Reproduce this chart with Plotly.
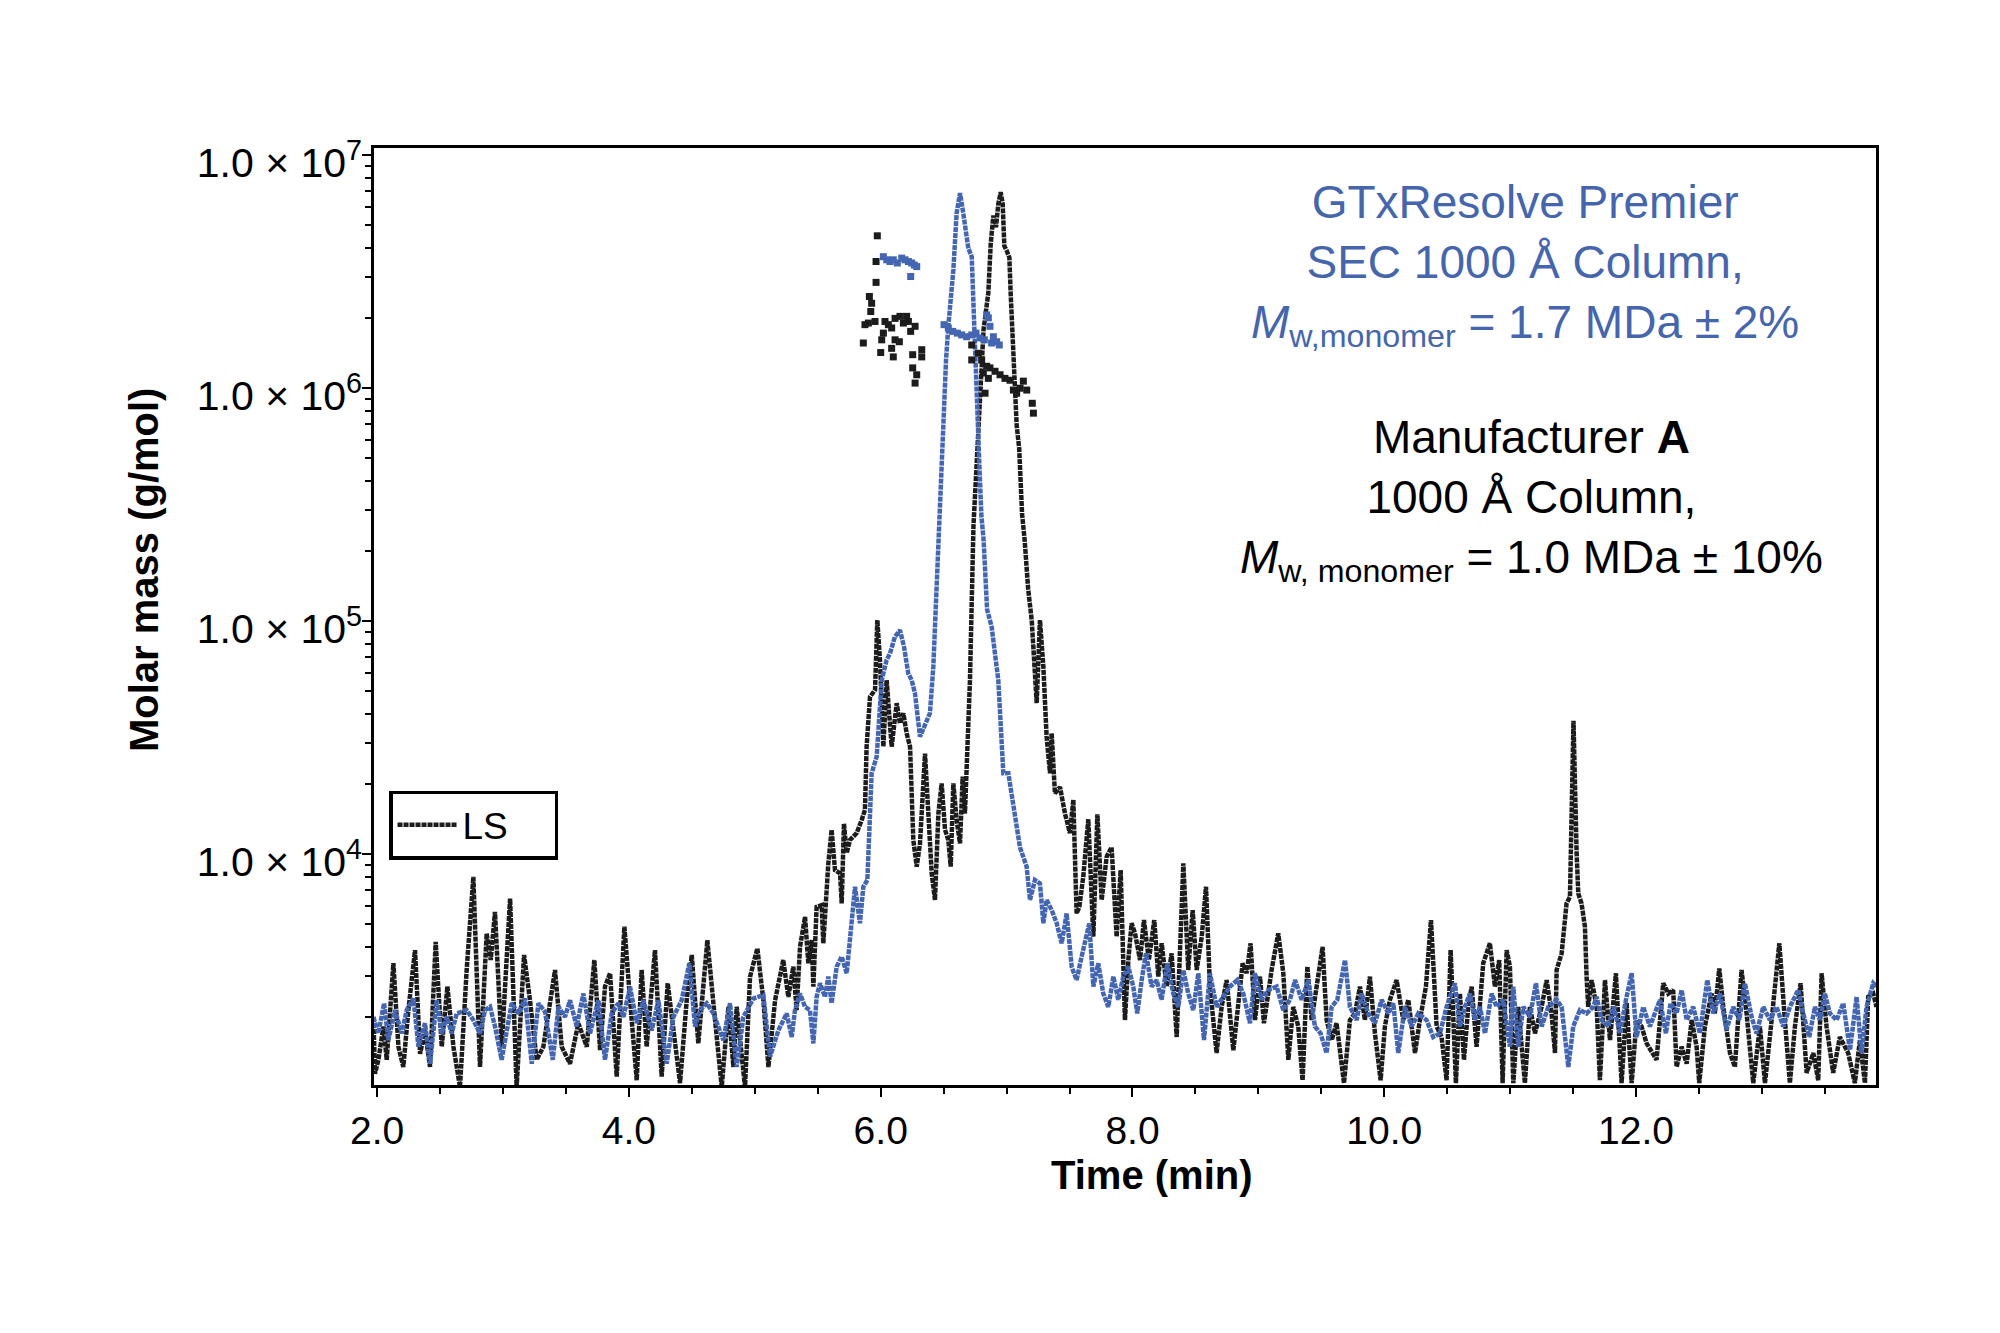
import plotly.graph_objects as go

# ---------------- data ----------------
black_time = [1.970, 1.983, 2.010, 2.050, 2.076, 2.129, 2.169, 2.208, 2.248, 2.301, 2.341, 2.380, 2.420, 2.465, 2.513, 2.558, 2.606, 2.658, 2.711, 2.764, 2.817, 2.870, 2.902, 2.936, 2.989, 3.056, 3.108, 3.167, 3.214, 3.267, 3.320, 3.413, 3.466, 3.532, 3.598, 3.665, 3.725, 3.771, 3.810, 3.850, 3.903, 3.964, 4.009, 4.062, 4.101, 4.141, 4.207, 4.260, 4.308, 4.353, 4.406, 4.459, 4.499, 4.551, 4.623, 4.671, 4.737, 4.790, 4.830, 4.856, 4.922, 4.962, 5.020, 5.068, 5.108, 5.161,
              5.226, 5.266, 5.306, 5.332, 5.359, 5.399, 5.425, 5.452, 5.465, 5.491, 5.531, 5.544, 5.584, 5.610, 5.637, 5.677, 5.690, 5.708, 5.730, 5.756, 5.809, 5.849, 5.875, 5.888, 5.915, 5.955, 5.973, 5.994, 6.008, 6.021, 6.047, 6.087, 6.127, 6.153, 6.180, 6.206, 6.233, 6.259, 6.286, 6.312, 6.352, 6.378, 6.405, 6.431, 6.458, 6.484, 6.511, 6.537, 6.556, 6.577, 6.603, 6.630, 6.651, 6.669, 6.683, 6.709,
              6.737, 6.760, 6.789, 6.817, 6.855, 6.874, 6.895, 6.916, 6.934, 6.953, 6.969, 6.982, 7.000, 7.022, 7.032, 7.054, 7.080, 7.100, 7.123, 7.143, 7.171, 7.200, 7.212, 7.239, 7.265, 7.292, 7.318, 7.345, 7.358, 7.384, 7.424, 7.464, 7.503, 7.530, 7.556,
              7.578, 7.609, 7.649, 7.689, 7.721, 7.755, 7.795, 7.834, 7.874, 7.906, 7.940, 7.967, 7.993, 8.020, 8.060, 8.091, 8.130, 8.173, 8.205, 8.232, 8.271, 8.311, 8.351, 8.404, 8.443, 8.478, 8.510, 8.550, 8.584, 8.615, 8.668, 8.708, 8.748, 8.801, 8.840, 8.875, 8.907, 8.938, 8.973, 9.013, 9.044, 9.105, 9.158, 9.198, 9.238, 9.277, 9.317, 9.351, 9.389, 9.423, 9.510, 9.542, 9.582, 9.621, 9.680, 9.727, 9.767, 9.807, 9.846, 9.886, 9.926, 9.971, 10.005, 10.045, 10.098, 10.151, 10.191, 10.244, 10.283, 10.331, 10.371, 10.416, 10.455, 10.495, 10.527, 10.569, 10.601,
              10.633, 10.667, 10.694, 10.733, 10.786, 10.839, 10.879, 10.913, 10.940, 10.972, 10.998, 11.025, 11.064, 11.117, 11.157, 11.197, 11.250, 11.290, 11.329, 11.356, 11.369, 11.409, 11.448, 11.475, 11.488, 11.503, 11.528, 11.541, 11.567, 11.594, 11.607, 11.620, 11.647, 11.687, 11.713, 11.753, 11.793, 11.840, 11.885, 11.925, 11.965, 12.004, 12.044, 12.084, 12.163, 12.216, 12.256, 12.295, 12.322, 12.362, 12.402, 12.442, 12.481, 12.502, 12.547, 12.600, 12.626, 12.661, 12.693, 12.746, 12.785, 12.838, 12.878, 12.931, 12.984, 13.024, 13.077, 13.138, 13.182, 13.222, 13.262, 13.307, 13.355, 13.408, 13.447, 13.474, 13.513, 13.566, 13.619, 13.685, 13.738, 13.778, 13.818, 13.844, 13.884, 13.910]
black_mass = [2000, 1140, 1310, 1820, 1310, 3400, 1490, 1220, 2140, 3870, 1390, 1750, 1220, 4200, 1490, 2700, 1490, 1000, 3180, 7980, 1220, 4560, 3510, 5650, 1490, 6440, 1000, 3690, 2360, 1310, 1490, 3180, 1490, 1260, 1880, 1490, 3510, 1440, 2700, 3080, 1110, 4880, 2360, 1070, 3180, 1490, 3870, 1110, 2790, 1700, 1040, 2360, 3690, 1540, 4270, 2290, 1000, 2210, 1220, 2210, 1000, 2970, 3940, 2360, 1220, 2360,
              3510, 2440, 3290, 2140, 4000, 5380, 3400, 4270, 2700, 5940, 6040, 4140, 9120, 12700, 8530, 8260, 6140, 13500, 10100, 11500, 12300, 14000, 15500, 28900, 47300, 50600, 101000, 68100, 40200, 28900, 55800, 28900, 44400, 36400, 40200, 33000, 28900, 11500, 8830, 11100, 27000, 14900, 8260, 6350, 14900, 20100, 12700, 11500, 8830, 20100, 14000, 11100, 21500, 14900, 22200, 55800,
              257000, 427000, 891000, 1780000, 2570000, 4170000, 5500000, 4900000, 6170000, 6920000, 6170000, 4070000, 3890000, 3630000, 2570000, 1320000, 692000, 550000, 288000, 224000, 138000, 100000, 77600, 44400, 101000, 63700, 31900, 22200, 33000, 18200, 19400, 14900, 12300, 17100, 5560,
              5940, 8000, 14100, 4420, 14800, 6350, 9750, 10700, 4420, 8530, 1940, 3510, 5050, 4570, 3510, 5210, 3510, 5210, 2980, 4140, 2700, 3750, 1640, 9120, 3180, 5750, 3180, 4420, 7240, 2700, 1400, 2210, 2880, 1440, 2210, 3400, 3080, 4140, 1940, 2980, 1880, 3180, 4570, 3080, 1310, 2210, 1820, 1070, 3290, 1940, 4000, 1940, 1590, 1880, 1040, 1940, 2070, 2700, 1940, 2980, 1700, 1070, 1820, 2370, 2880, 1940, 2370, 1400, 1940, 2700, 5210, 1820, 1640, 1070, 3870, 1040, 2520,
              1310, 2210, 2700, 1490, 3400, 4140, 2700, 3510, 1040, 3870, 3290, 1040, 2210, 1040, 2210, 1700, 2210, 2880, 2070, 1400, 3180, 3750, 6140, 6560, 12700, 37300, 10100, 6780, 6140, 4880, 2980, 2210, 2880, 2210, 1070, 2880, 1590, 3080, 1040, 2290, 1040, 1940, 1820, 1540, 1310, 2790, 2520, 2610, 1220, 1490, 1260, 1940, 1490, 1040, 1820, 2520, 2070, 3230, 2210, 1400, 1220, 3180, 2070, 1040, 1820, 1040, 1940, 4140, 1940, 1040, 1820, 2790, 1150, 1400, 1070, 3080, 1820, 1150, 1640, 1400, 1040, 1590, 1040, 2440, 2520, 2210]

blue_time = [1.970, 2.010, 2.055, 2.089, 2.142, 2.195, 2.235, 2.288, 2.328, 2.380, 2.420, 2.473, 2.513, 2.553, 2.592, 2.632, 2.711, 2.764, 2.817, 2.857, 2.897, 2.936, 2.989, 3.029, 3.069, 3.122, 3.175, 3.228, 3.281, 3.334, 3.395, 3.440, 3.492, 3.532, 3.585, 3.638, 3.691, 3.757, 3.810, 3.863, 3.916, 3.956, 4.009, 4.062, 4.115, 4.181, 4.234, 4.300, 4.353, 4.419, 4.480, 4.525, 4.565, 4.618, 4.671, 4.750, 4.803, 4.856, 4.909, 4.988, 5.068, 5.121, 5.187,
             5.253, 5.293, 5.319, 5.359, 5.399, 5.438, 5.465, 5.491, 5.518, 5.557, 5.584, 5.610, 5.650, 5.690, 5.730, 5.756, 5.796, 5.835, 5.862, 5.894, 5.928, 5.968, 6.008, 6.047, 6.074, 6.113, 6.153, 6.185, 6.219, 6.246, 6.272, 6.312, 6.352, 6.391, 6.418, 6.448, 6.471, 6.490, 6.503, 6.519, 6.537, 6.559, 6.577, 6.603, 6.630, 6.656, 6.683, 6.696, 6.723, 6.736, 6.752, 6.768, 6.785, 6.800, 6.817, 6.845, 6.881, 6.934, 6.974, 7.014, 7.053, 7.106, 7.159, 7.186, 7.225, 7.265, 7.292, 7.318, 7.358, 7.398, 7.437, 7.477, 7.517, 7.556,
             7.596, 7.657, 7.689, 7.728, 7.768, 7.808, 7.848, 7.887, 7.927, 7.967, 8.006, 8.038, 8.073, 8.107, 8.152, 8.192, 8.231, 8.277, 8.324, 8.364, 8.404, 8.443, 8.483, 8.523, 8.568, 8.615, 8.668, 8.721, 8.774, 8.833, 8.880, 8.933, 8.973, 9.026, 9.079, 9.145, 9.198, 9.251, 9.291, 9.344, 9.397, 9.449, 9.494, 9.542, 9.582, 9.627, 9.688, 9.727, 9.781, 9.820, 9.873, 9.926, 9.979, 10.032, 10.072, 10.111, 10.164, 10.217, 10.270, 10.336, 10.389, 10.442, 10.495, 10.561, 10.601,
             10.641, 10.680, 10.720, 10.760, 10.800, 10.853, 10.892, 10.945, 10.998, 11.025, 11.064, 11.104, 11.157, 11.205, 11.250, 11.303, 11.369, 11.409, 11.462, 11.501, 11.554, 11.607, 11.660, 11.687, 11.726, 11.779, 11.824, 11.872, 11.920, 11.965, 12.004, 12.057, 12.110, 12.150, 12.190, 12.237, 12.274, 12.322, 12.362, 12.402, 12.454, 12.507, 12.566, 12.613, 12.666, 12.719, 12.772, 12.820, 12.865, 12.918, 12.957, 13.010, 13.063, 13.116, 13.169, 13.222, 13.288, 13.328, 13.376, 13.421, 13.460, 13.500, 13.540, 13.593, 13.646, 13.699, 13.752, 13.791, 13.831, 13.884, 13.910]
blue_mass = [2000, 1700, 2290, 1590, 2140, 1700, 2140, 2400, 1490, 1880, 1260, 2360, 1700, 2000, 1700, 2070, 2140, 1940, 1700, 2140, 2210, 1820, 1310, 1750, 2290, 2070, 2400, 1260, 2290, 2100, 1310, 2210, 2000, 2360, 1820, 2520, 1700, 2360, 1310, 2070, 2290, 2000, 2690, 1880, 2360, 1750, 2360, 1260, 2000, 2360, 3400, 1820, 2140, 2290, 2070, 1590, 2290, 1220, 2000, 2400, 2480, 1350, 1750,
             2070, 1640, 2140, 2520, 2210, 2140, 1540, 2440, 2790, 2440, 2980, 2290, 3280, 3630, 3080, 4270, 7240, 5050, 7240, 7740, 22200, 26200, 55800, 68100, 72600, 85700, 91400, 77600, 59600, 55800, 49000, 31900, 36400, 40200, 63700, 155000, 288000, 550000, 955000, 1320000, 1840000, 2550000, 3210000, 5620000, 6860000, 5620000, 4180000, 3980000, 3660000, 2240000, 1320000, 794000, 447000, 282000, 224000, 112000, 94600, 55800, 22200, 22200, 16000, 10700, 8830, 6350, 7740, 7480, 5050, 6350, 5750, 5050, 4140, 5560, 3280, 2880,
             3630, 5040, 2700, 3400, 2520, 2210, 2980, 2370, 2980, 3290, 2700, 2070, 2880, 3750, 2700, 2880, 2370, 3400, 2520, 2210, 3180, 2520, 2140, 3080, 1590, 3080, 2210, 2440, 2700, 2880, 2520, 1880, 3080, 2370, 2610, 2700, 2140, 2370, 2880, 2370, 2880, 1820, 1700, 1400, 2210, 2370, 3510, 2210, 1940, 2520, 2070, 1880, 2370, 2070, 2290, 1400, 2210, 1820, 2070, 1940, 1640, 1700, 2210, 2790, 1820,
             2210, 2520, 1940, 2210, 1700, 2520, 2210, 2370, 1490, 2700, 1490, 2210, 2000, 2790, 1820, 2210, 2370, 2210, 1220, 1820, 2140, 2070, 2210, 2440, 1940, 1820, 2210, 1700, 2370, 3080, 1640, 2210, 1820, 2070, 2370, 1700, 2290, 2070, 2610, 1940, 2210, 1700, 2880, 2070, 2520, 1760, 2210, 1940, 2790, 2000, 1700, 2210, 1940, 2210, 1820, 2210, 2610, 2070, 1640, 2210, 1940, 2520, 2070, 1940, 2290, 1440, 2440, 1400, 2210, 2790, 2700]

# molar-mass points across the peaks
black_pts_time = [5.973, 5.963, 5.963, 5.910, 5.928, 5.921, 5.902, 5.875, 5.862, 5.955, 6.008, 6.000, 6.034, 6.061, 6.087, 6.114, 6.153, 6.180, 6.206, 6.220, 6.238, 6.273, 6.021, 6.087, 6.114, 6.148, 6.100, 6.254, 6.326, 6.326, 6.254, 6.286, 6.273,
                  6.723, 6.723, 6.776, 6.802, 6.815, 6.842, 6.868, 6.908, 6.948, 6.987, 7.027, 7.054, 7.080, 7.107, 7.133, 7.160, 7.204, 7.213, 6.829, 6.855]
black_pts_mass = [4.50e6, 3.49e6, 2.84e6, 2.47e6, 2.31e6, 2.13e6, 1.90e6, 1.87e6, 1.56e6, 1.93e6, 1.61e6, 1.42e6, 1.93e6, 1.87e6, 1.81e6, 1.99e6, 2.03e6, 1.90e6, 2.03e6, 1.93e6, 1.75e6, 1.84e6, 1.72e6, 1.48e6, 1.61e6, 1.58e6, 1.36e6, 1.39e6, 1.46e6, 1.36e6, 1.22e6, 1.14e6, 1.05e6,
                  1.53e6, 1.32e6, 1.41e6, 1.32e6, 1.16e6, 1.24e6, 1.22e6, 1.18e6, 1.14e6, 1.10e6, 1.08e6, 9.8e5, 9.5e5, 9.98e5, 1.07e6, 9.8e5, 8.6e5, 7.8e5, 9.5e5, 1.10e6]
blue_pts_time = [6.021, 6.048, 6.074, 6.100, 6.132, 6.167, 6.193, 6.220, 6.246, 6.267, 6.286, 6.238,
                 6.503, 6.537, 6.572, 6.609, 6.643, 6.683, 6.723, 6.757, 6.789, 6.823, 6.842, 6.855, 6.868, 6.895, 6.921, 6.942, 6.881]
blue_pts_mass = [3.66e6, 3.55e6, 3.49e6, 3.55e6, 3.44e6, 3.61e6, 3.55e6, 3.49e6, 3.44e6, 3.37e6, 3.32e6, 3.01e6,
                 1.87e6, 1.81e6, 1.75e6, 1.72e6, 1.69e6, 1.66e6, 1.69e6, 1.72e6, 1.64e6, 1.61e6, 2.06e6, 2.00e6, 1.84e6, 1.66e6, 1.58e6, 1.53e6, 1.56e6]

x_tick_vals = [2, 4, 6, 8, 10, 12]
x_tick_text = ["2.0", "4.0", "6.0", "8.0", "10.0", "12.0"]
x_minor_vals = [2.5, 3, 3.5, 4.5, 5, 5.5, 6.5, 7, 7.5, 8.5, 9, 9.5, 10.5, 11, 11.5, 12.5, 13, 13.5]
y_tick_vals = [1e4, 1e5, 1e6, 1e7]
y_tick_text = ["1.0 × 10<sup>4</sup>", "1.0 × 10<sup>5</sup>", "1.0 × 10<sup>6</sup>", "1.0 × 10<sup>7</sup>"]
y_minor_vals = [2e3, 3e3, 4e3, 5e3, 6e3, 7e3, 8e3, 9e3,
                2e4, 3e4, 4e4, 5e4, 6e4, 7e4, 8e4, 9e4,
                2e5, 3e5, 4e5, 5e5, 6e5, 7e5, 8e5, 9e5,
                2e6, 3e6, 4e6, 5e6, 6e6, 7e6, 8e6, 9e6]

# ---------------- styling ----------------
BLACK = "#1c1c1c"
BLUE = "#4466b2"
FONT = "Liberation Sans, Arial, sans-serif"
LINE_DASH = "5px,1px"

fig = go.Figure()
fig.add_trace(go.Scatter(x=black_time, y=black_mass, mode="lines", name="LS\u00a0\u00a0\u00a0\u00a0",
                         line=dict(color=BLACK, width=4.5, dash=LINE_DASH), showlegend=True))
fig.add_trace(go.Scatter(x=blue_time, y=blue_mass, mode="lines", name="LS (GTxResolve)",
                         line=dict(color=BLUE, width=4.5, dash=LINE_DASH), showlegend=False))
fig.add_trace(go.Scatter(x=black_pts_time, y=black_pts_mass, mode="markers", showlegend=False,
                         marker=dict(symbol="square", size=7, color=BLACK, line=dict(width=0))))
fig.add_trace(go.Scatter(x=blue_pts_time, y=blue_pts_mass, mode="markers", showlegend=False,
                         marker=dict(symbol="square", size=7, color=BLUE, line=dict(width=0))))

L, R, T, B = 374, 124, 148, 248
fig.update_layout(
    width=2000, height=1333,
    margin=dict(l=L, r=R, t=T, b=B, pad=0),
    paper_bgcolor="white", plot_bgcolor="white",
    font=dict(family=FONT, size=38, color="black"),
    xaxis=dict(range=[1.975, 13.906], showgrid=False, zeroline=False,
               showline=True, mirror=True, linecolor="black", linewidth=2.5,
               ticks="outside", ticklen=9, tickwidth=2, tickcolor="black",
               tickmode="array", tickvals=x_tick_vals, ticktext=x_tick_text,
               tickfont=dict(family=FONT, size=39),
               minor=dict(tickmode="array", tickvals=x_minor_vals, ticks="outside",
                          ticklen=6, tickwidth=1.5, tickcolor="black", showgrid=False)),
    yaxis=dict(type="log", range=[3.009, 7.03], showgrid=False, zeroline=False,
               showline=True, mirror=True, linecolor="black", linewidth=2.5,
               ticks="outside", ticklen=9, tickwidth=2, tickcolor="black",
               tickmode="array", tickvals=y_tick_vals, ticktext=y_tick_text,
               tickfont=dict(family=FONT, size=41),
               ticklabelstandoff=-8, ticklabelshift=8,
               minor=dict(tickmode="array", tickvals=y_minor_vals, ticks="outside",
                          ticklen=6, tickwidth=1.5, tickcolor="black", showgrid=False)),
    legend=dict(x=0.01, y=0.314, xanchor="left", yanchor="top",
                bgcolor="white", bordercolor="black", borderwidth=3.5,
                font=dict(family=FONT, size=37, color="black"),
                itemwidth=60, tracegroupgap=0),
    showlegend=True,
)

annotations = [
    dict(text="GTxResolve Premier<br>SEC 1000 Å Column,<br><i>M</i><sub>w,monomer</sub> = 1.7 MDa ± 2%",
         x=0.766, y=0.875, xref="paper", yref="paper", xanchor="center", yanchor="middle",
         showarrow=False, align="center", font=dict(family=FONT, size=46, color="#4565ad")),
    dict(text="Manufacturer <b>A</b><br>1000 Å Column,<br><i>M</i><sub>w, monomer</sub> = 1.0 MDa ± 10%",
         x=0.7706, y=0.624, xref="paper", yref="paper", xanchor="center", yanchor="middle",
         showarrow=False, align="center", font=dict(family=FONT, size=46, color="black")),
    dict(text="<b>Molar mass (g/mol)</b>", x=-0.1531, y=0.5496, xref="paper", yref="paper",
         xanchor="center", yanchor="middle", textangle=-90, showarrow=False,
         font=dict(family=FONT, size=40, color="black")),
    dict(text="<b>Time (min)</b>", x=0.518, y=-0.096, xref="paper", yref="paper",
         xanchor="center", yanchor="middle", showarrow=False,
         font=dict(family=FONT, size=40, color="black")),
]
fig.update_layout(annotations=annotations)

fig.write_html("out.html")
